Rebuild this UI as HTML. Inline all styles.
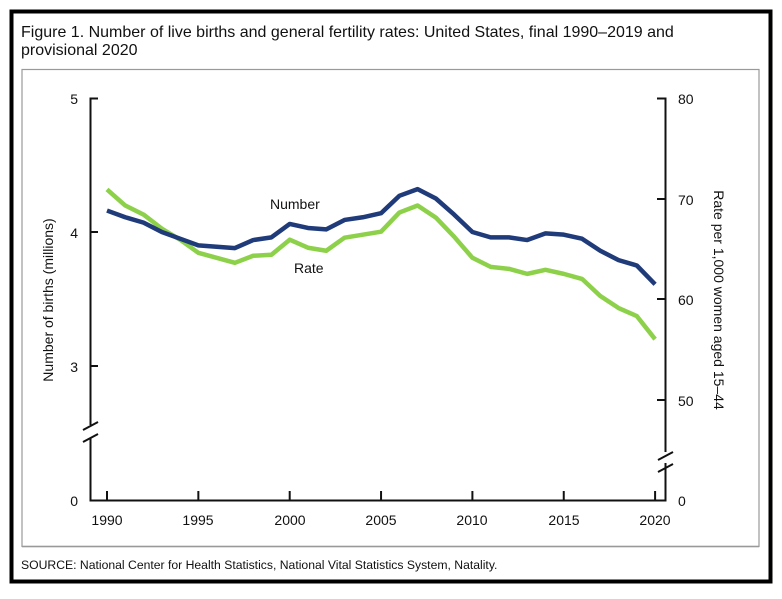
<!DOCTYPE html>
<html><head><meta charset="utf-8"><style>
body{margin:0;background:#fff;width:782px;height:594px;overflow:hidden;font-family:"Liberation Sans",Arial,sans-serif}
</style></head><body>
<svg id="s" width="782" height="594" xmlns="http://www.w3.org/2000/svg" font-family="Liberation Sans, Arial, sans-serif">
<rect x="11.5" y="11.5" width="759" height="570" fill="none" stroke="#000" stroke-width="4"/>
<text x="21" y="37" font-size="16" fill="#111">Figure 1. Number of live births and general fertility rates: United States, final 1990–2019 and</text>
<text x="21" y="55" font-size="16" fill="#111">provisional 2020</text>
<rect x="22" y="69.5" width="737" height="477" fill="none" stroke="#999" stroke-width="1.2"/>
<line x1="22" y1="546.5" x2="759" y2="546.5" stroke="#999" stroke-width="1.5"/>
<text x="21" y="569" font-size="12.2" fill="#111">SOURCE: National Center for Health Statistics, National Vital Statistics System, Natality.</text>
<g stroke="#111" stroke-width="2" fill="none">
<path d="M98,98.5H90.5V425 M90.5,438V500.5H665.5V463 M665.5,452V98.5H657"/>
<path d="M83,430l15,-8 M83,442l15,-8"/>
<path d="M658,460l15,-8 M658,472l15,-8"/>
<path d="M90,232H98 M90,366H98 M665,199H657 M665,299H657 M665,400H657"/>
</g>
<g id="xt" stroke="#111" stroke-width="2"></g>
<g font-size="14" fill="#111">
<text x="78" y="104" text-anchor="end">5</text>
<text x="78" y="238" text-anchor="end">4</text>
<text x="78" y="372" text-anchor="end">3</text>
<text x="78" y="506" text-anchor="end">0</text>
<text x="678" y="104">80</text>
<text x="678" y="205">70</text>
<text x="678" y="305">60</text>
<text x="678" y="406">50</text>
<text x="678" y="506">0</text>
<text x="107" y="525" text-anchor="middle">1990</text>
<text x="198" y="525" text-anchor="middle">1995</text>
<text x="290" y="525" text-anchor="middle">2000</text>
<text x="381" y="525" text-anchor="middle">2005</text>
<text x="472" y="525" text-anchor="middle">2010</text>
<text x="564" y="525" text-anchor="middle">2015</text>
<text x="655" y="525" text-anchor="middle">2020</text>
<text x="270" y="209">Number</text>
<text x="294" y="273">Rate</text>
<text transform="translate(53,300) rotate(-90)" text-anchor="middle">Number of births (millions)</text>
<text transform="translate(714,300) rotate(90)" text-anchor="middle">Rate per 1,000 women aged 15–44</text>
</g>
<polyline id="rate" fill="none" stroke="#8dd14a" stroke-width="4.5" stroke-linejoin="round"/>
<polyline id="num" fill="none" stroke="#1f3b7a" stroke-width="4.5" stroke-linejoin="round"/>
</svg>
<script>
var n=[4.16,4.11,4.07,4.00,3.95,3.90,3.89,3.88,3.94,3.96,4.06,4.03,4.02,4.09,4.11,4.14,4.27,4.32,4.25,4.13,4.00,3.96,3.96,3.94,3.99,3.98,3.95,3.86,3.79,3.75,3.61];
var r=[70.9,69.3,68.4,67.0,65.9,64.6,64.1,63.6,64.3,64.4,65.9,65.1,64.8,66.1,66.4,66.7,68.6,69.3,68.1,66.2,64.1,63.2,63.0,62.5,62.9,62.5,62.0,60.3,59.1,58.3,56.0];
var a=[],b=[];
for(var i=0;i<31;i++){var x=107+i*18.27;a.push(x+','+(232-(n[i]-4)*134));b.push(x+','+(299-(r[i]-60)*10.05));}
document.getElementById('num').setAttribute('points',a.join(' '));
document.getElementById('rate').setAttribute('points',b.join(' '));
var g=document.getElementById('xt'),h='';
for(var k=0;k<7;k++){var x=107+k*91.35;h+='<line x1="'+x+'" y1="500" x2="'+x+'" y2="491"/>';}
g.innerHTML=h;
</script>
</body></html>
